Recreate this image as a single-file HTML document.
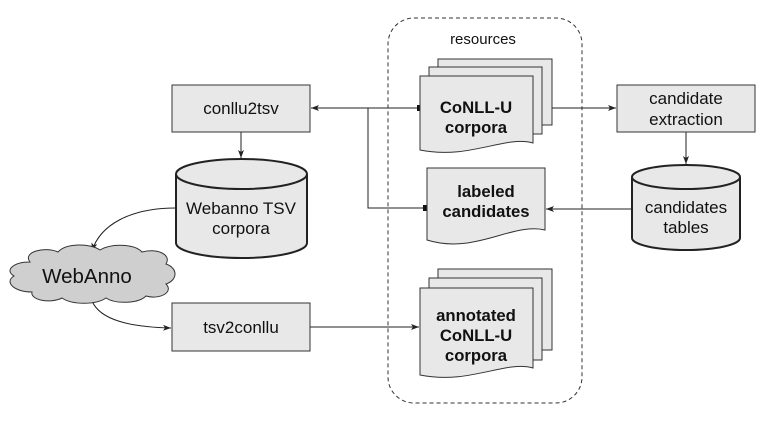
<!DOCTYPE html>
<html><head><meta charset="utf-8"><style>
html,body{margin:0;padding:0;background:#fff;}
svg{display:block;}
text{font-family:"Liberation Sans",Arial,sans-serif;fill:#111;}
.n{font-size:17px;}
.b{font-size:16.7px;font-weight:bold;}
</style></head><body>
<svg width="763" height="426" viewBox="0 0 763 426" xmlns="http://www.w3.org/2000/svg">
<defs>
<marker id="ar" markerWidth="8" markerHeight="6" refX="8" refY="3" orient="auto" markerUnits="userSpaceOnUse">
<path d="M0,0 L8,3 L0,6 L2,3 Z" fill="#222"/></marker>
</defs>
<rect x="388" y="18" width="194" height="385" rx="26" fill="none" stroke="#333" stroke-dasharray="4,3" stroke-width="1"/>
<text x="483" y="44" text-anchor="middle" style="font-size:15px">resources</text>

<g stroke="#222" stroke-width="1" fill="none">
<line x1="420" y1="108" x2="311" y2="108" marker-end="url(#ar)"/>
<polyline points="368,108 368,208 426,208"/>
<line x1="241" y1="132" x2="241" y2="158" marker-end="url(#ar)"/>
<line x1="533" y1="108" x2="616" y2="108" marker-end="url(#ar)"/>
<line x1="686" y1="132" x2="686" y2="164" marker-end="url(#ar)"/>
<line x1="632" y1="209" x2="546" y2="209" marker-end="url(#ar)"/>
<line x1="310" y1="327" x2="419" y2="327" marker-end="url(#ar)"/>
<path d="M176,208 C130,208 100,225 92,251" marker-end="url(#ar)"/>
<path d="M92,301 C100,320 130,327 171,328" marker-end="url(#ar)"/>
</g>
<rect x="417" y="105" width="4" height="6" fill="#111"/>
<rect x="423" y="205" width="4" height="6" fill="#111"/>

<rect x="172" y="85" width="138" height="47" fill="#e8e8e8" stroke="#333"/>
<text x="241" y="114" class="n" text-anchor="middle">conllu2tsv</text>
<rect x="172" y="303" width="138" height="48" fill="#e8e8e8" stroke="#333"/>
<text x="241" y="333" class="n" text-anchor="middle">tsv2conllu</text>
<rect x="617" y="85" width="138" height="47" fill="#e8e8e8" stroke="#333"/>
<text x="686" y="104" class="n" text-anchor="middle">candidate</text>
<text x="686" y="125" class="n" text-anchor="middle">extraction</text>

<path d="M176,174 V243 A65.5,15 0 0 0 307,243 V174" fill="#e8e8e8" stroke="#222" stroke-width="2"/>
<ellipse cx="241.5" cy="174" rx="65.5" ry="15" fill="#e8e8e8" stroke="#222" stroke-width="2"/>
<text x="241" y="214" class="n" text-anchor="middle">Webanno TSV</text>
<text x="241" y="234" class="n" text-anchor="middle">corpora</text>

<path d="M632,177 V238 A54,12 0 0 0 740,238 V177" fill="#e8e8e8" stroke="#222" stroke-width="2"/>
<ellipse cx="686" cy="177" rx="54" ry="12" fill="#e8e8e8" stroke="#222" stroke-width="2"/>
<text x="686" y="213" class="n" text-anchor="middle">candidates</text>
<text x="686" y="233" class="n" text-anchor="middle">tables</text>

<path d="M30,262 C22,252 45,246 58,252 C66,243 90,243 100,250 C112,243 135,244 142,252 C156,248 172,254 166,264 C178,268 178,280 166,284 C174,292 160,300 146,296 C138,304 115,304 106,298 C96,305 72,305 62,298 C50,304 30,300 32,292 C14,292 4,282 14,276 C4,270 14,262 30,262 Z" fill="#cfcfcf" stroke="#333" stroke-width="1"/>
<text x="87" y="283" text-anchor="middle" style="font-size:20.5px">WebAnno</text>

<g fill="#e8e8e8" stroke="#333" stroke-width="1">
<path d="M438,59 H552 V125 H438 Z"/>
<path d="M429,67 H542 V134 H429 Z"/>
<path d="M420,76 H533 V143 C505,135 470,160 420,150 Z"/>
</g>
<text x="476" y="113" class="b" text-anchor="middle">CoNLL-U</text>
<text x="476" y="133" class="b" text-anchor="middle">corpora</text>

<path d="M427,168 H545 V230 C512,222 475,255 427,240 Z" fill="#e8e8e8" stroke="#333"/>
<text x="486" y="197" class="b" text-anchor="middle">labeled</text>
<text x="486" y="217" class="b" text-anchor="middle">candidates</text>

<g fill="#e8e8e8" stroke="#333" stroke-width="1">
<path d="M438,269 H552 V350 H438 Z"/>
<path d="M429,278 H542 V360 H429 Z"/>
<path d="M420,288 H533 V368 C505,360 470,385 420,375 Z"/>
</g>
<text x="476" y="321" class="b" text-anchor="middle">annotated</text>
<text x="476" y="341" class="b" text-anchor="middle">CoNLL-U</text>
<text x="476" y="361" class="b" text-anchor="middle">corpora</text>
</svg>
</body></html>
